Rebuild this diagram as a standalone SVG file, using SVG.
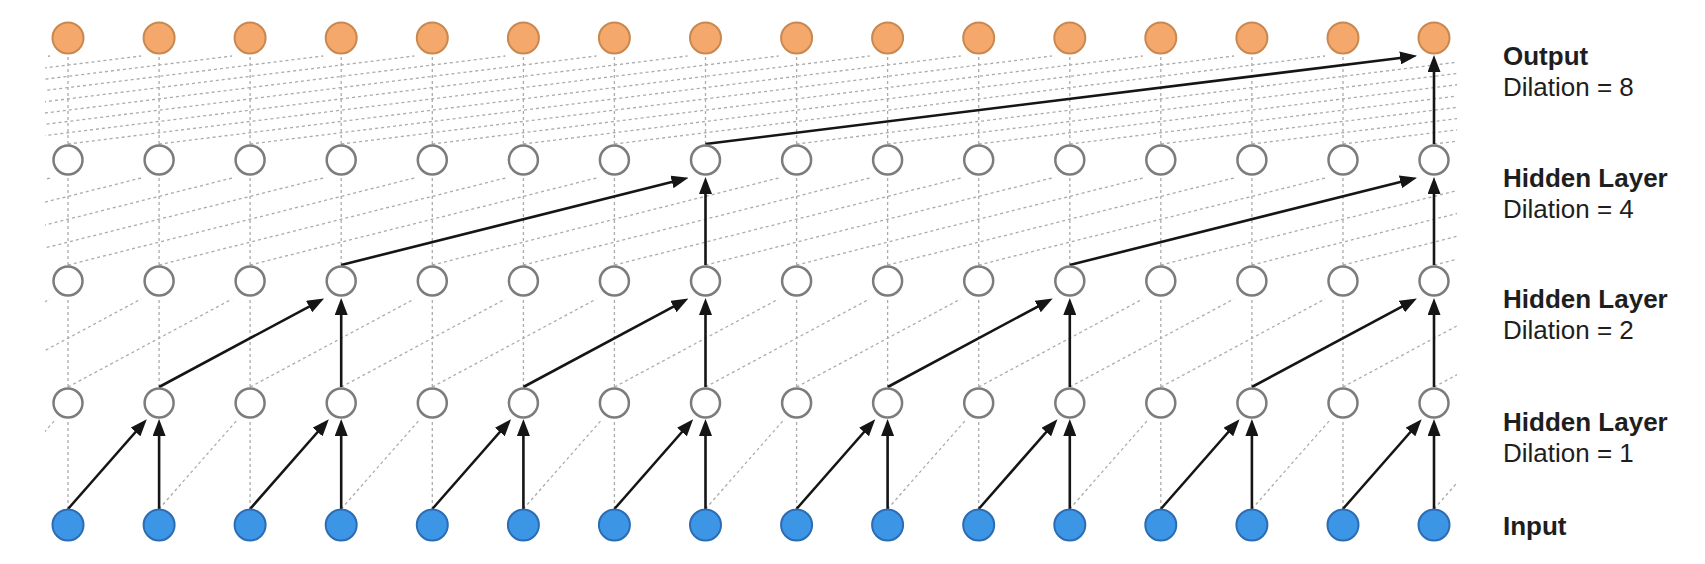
<svg xmlns="http://www.w3.org/2000/svg" xmlns:xlink="http://www.w3.org/1999/xlink" width="1705" height="564" viewBox="0 0 1705 564">
<style>
.grey{stroke:#ababab;stroke-width:1.3;stroke-dasharray:3 3;fill:none}
.arr{stroke:#151515;stroke-width:2.6;fill:none;marker-end:url(#ah)}
.out{fill:#F4A86C;stroke:#C8884F;stroke-width:2}
.hid{fill:#ffffff;stroke:#7c7c7c;stroke-width:2.5}
.inp{fill:#3D95E6;stroke:#2B6CB3;stroke-width:2}
.t{font-family:"Liberation Sans",Arial,sans-serif;font-size:26px;fill:#1e1e1e}
.b{font-weight:bold}
</style>
<defs>
<marker id="ah" markerUnits="userSpaceOnUse" markerWidth="17" markerHeight="13" refX="8" refY="6.5" orient="auto" viewBox="0 0 17 13">
<path d="M0,0 L17,6.5 L0,13 z" fill="#151515" stroke="none"/>
</marker>
<clipPath id="clip"><rect x="45" y="0" width="1412" height="564"/></clipPath>
<g id="gcol">
<line x1="-728.6" y1="144" x2="-18" y2="56"/>
<line x1="-364.3" y1="265" x2="-18" y2="178"/>
<line x1="-182.1" y1="387" x2="-18" y2="299"/>
<line x1="-91.1" y1="509" x2="-13" y2="420"/>
<line x1="0" y1="144" x2="0" y2="56"/>
<line x1="0" y1="265" x2="0" y2="178"/>
<line x1="0" y1="387" x2="0" y2="299"/>
<line x1="0" y1="509" x2="0" y2="420"/>
</g>
<line id="b8" x1="-728.6" y1="144" x2="-25.94" y2="56.98"/>
<line id="v8" x1="0" y1="144" x2="0" y2="64"/>
<line id="b4" x1="-364.3" y1="265" x2="-25.76" y2="179.95"/>
<line id="v4" x1="0" y1="265" x2="0" y2="186"/>
<line id="b2" x1="-182.1" y1="387" x2="-25.05" y2="302.78"/>
<line id="v2" x1="0" y1="387" x2="0" y2="307"/>
<line id="b1" x1="-91.1" y1="509" x2="-18.28" y2="426.01"/>
<line id="v1" x1="0" y1="509" x2="0" y2="428"/>
</defs>

<g id="connectors">
<g class="grey" clip-path="url(#clip)">
<use href="#gcol" x="68"/><use href="#gcol" x="159.1"/><use href="#gcol" x="250.1"/><use href="#gcol" x="341.2"/>
<use href="#gcol" x="432.3"/><use href="#gcol" x="523.4"/><use href="#gcol" x="614.4"/><use href="#gcol" x="705.5"/>
<use href="#gcol" x="796.6"/><use href="#gcol" x="887.6"/><use href="#gcol" x="978.7"/><use href="#gcol" x="1069.8"/>
<use href="#gcol" x="1160.8"/><use href="#gcol" x="1251.9"/><use href="#gcol" x="1343"/><use href="#gcol" x="1434"/>
<use href="#gcol" x="1525.1"/><use href="#gcol" x="1616.2"/><use href="#gcol" x="1707.3"/><use href="#gcol" x="1798.4"/>
<use href="#gcol" x="1889.5"/><use href="#gcol" x="1980.6"/><use href="#gcol" x="2071.6"/><use href="#gcol" x="2162.7"/>
</g>
<g class="arr">
<use href="#b8" x="1434"/><use href="#v8" x="1434"/>
<use href="#b4" x="705.5"/><use href="#v4" x="705.5"/>
<use href="#b4" x="1434"/><use href="#v4" x="1434"/>
<use href="#b2" x="341.2"/><use href="#v2" x="341.2"/>
<use href="#b2" x="705.5"/><use href="#v2" x="705.5"/>
<use href="#b2" x="1069.8"/><use href="#v2" x="1069.8"/>
<use href="#b2" x="1434"/><use href="#v2" x="1434"/>
<use href="#b1" x="159.1"/><use href="#v1" x="159.1"/>
<use href="#b1" x="341.2"/><use href="#v1" x="341.2"/>
<use href="#b1" x="523.4"/><use href="#v1" x="523.4"/>
<use href="#b1" x="705.5"/><use href="#v1" x="705.5"/>
<use href="#b1" x="887.6"/><use href="#v1" x="887.6"/>
<use href="#b1" x="1069.8"/><use href="#v1" x="1069.8"/>
<use href="#b1" x="1251.9"/><use href="#v1" x="1251.9"/>
<use href="#b1" x="1434"/><use href="#v1" x="1434"/>
</g>
</g>

<g id="output-layer">
<g id="out0"><circle class="out" cx="68" cy="38" r="15.5"/></g>
<g id="out1"><circle class="out" cx="159.1" cy="38" r="15.5"/></g>
<g id="out2"><circle class="out" cx="250.1" cy="38" r="15.5"/></g>
<g id="out3"><circle class="out" cx="341.2" cy="38" r="15.5"/></g>
<g id="out4"><circle class="out" cx="432.3" cy="38" r="15.5"/></g>
<g id="out5"><circle class="out" cx="523.4" cy="38" r="15.5"/></g>
<g id="out6"><circle class="out" cx="614.4" cy="38" r="15.5"/></g>
<g id="out7"><circle class="out" cx="705.5" cy="38" r="15.5"/></g>
<g id="out8"><circle class="out" cx="796.6" cy="38" r="15.5"/></g>
<g id="out9"><circle class="out" cx="887.6" cy="38" r="15.5"/></g>
<g id="out10"><circle class="out" cx="978.7" cy="38" r="15.5"/></g>
<g id="out11"><circle class="out" cx="1069.8" cy="38" r="15.5"/></g>
<g id="out12"><circle class="out" cx="1160.8" cy="38" r="15.5"/></g>
<g id="out13"><circle class="out" cx="1251.9" cy="38" r="15.5"/></g>
<g id="out14"><circle class="out" cx="1343" cy="38" r="15.5"/></g>
<g id="out15"><circle class="out" cx="1434" cy="38" r="15.5"/></g>
</g>

<g id="hidden4-layer">
<g id="h4_0"><circle class="hid" cx="68" cy="160" r="14.5"/></g>
<g id="h4_1"><circle class="hid" cx="159.1" cy="160" r="14.5"/></g>
<g id="h4_2"><circle class="hid" cx="250.1" cy="160" r="14.5"/></g>
<g id="h4_3"><circle class="hid" cx="341.2" cy="160" r="14.5"/></g>
<g id="h4_4"><circle class="hid" cx="432.3" cy="160" r="14.5"/></g>
<g id="h4_5"><circle class="hid" cx="523.4" cy="160" r="14.5"/></g>
<g id="h4_6"><circle class="hid" cx="614.4" cy="160" r="14.5"/></g>
<g id="h4_7"><circle class="hid" cx="705.5" cy="160" r="14.5"/></g>
<g id="h4_8"><circle class="hid" cx="796.6" cy="160" r="14.5"/></g>
<g id="h4_9"><circle class="hid" cx="887.6" cy="160" r="14.5"/></g>
<g id="h4_10"><circle class="hid" cx="978.7" cy="160" r="14.5"/></g>
<g id="h4_11"><circle class="hid" cx="1069.8" cy="160" r="14.5"/></g>
<g id="h4_12"><circle class="hid" cx="1160.8" cy="160" r="14.5"/></g>
<g id="h4_13"><circle class="hid" cx="1251.9" cy="160" r="14.5"/></g>
<g id="h4_14"><circle class="hid" cx="1343" cy="160" r="14.5"/></g>
<g id="h4_15"><circle class="hid" cx="1434" cy="160" r="14.5"/></g>
</g>

<g id="hidden2-layer">
<g id="h2_0"><circle class="hid" cx="68" cy="281" r="14.5"/></g>
<g id="h2_1"><circle class="hid" cx="159.1" cy="281" r="14.5"/></g>
<g id="h2_2"><circle class="hid" cx="250.1" cy="281" r="14.5"/></g>
<g id="h2_3"><circle class="hid" cx="341.2" cy="281" r="14.5"/></g>
<g id="h2_4"><circle class="hid" cx="432.3" cy="281" r="14.5"/></g>
<g id="h2_5"><circle class="hid" cx="523.4" cy="281" r="14.5"/></g>
<g id="h2_6"><circle class="hid" cx="614.4" cy="281" r="14.5"/></g>
<g id="h2_7"><circle class="hid" cx="705.5" cy="281" r="14.5"/></g>
<g id="h2_8"><circle class="hid" cx="796.6" cy="281" r="14.5"/></g>
<g id="h2_9"><circle class="hid" cx="887.6" cy="281" r="14.5"/></g>
<g id="h2_10"><circle class="hid" cx="978.7" cy="281" r="14.5"/></g>
<g id="h2_11"><circle class="hid" cx="1069.8" cy="281" r="14.5"/></g>
<g id="h2_12"><circle class="hid" cx="1160.8" cy="281" r="14.5"/></g>
<g id="h2_13"><circle class="hid" cx="1251.9" cy="281" r="14.5"/></g>
<g id="h2_14"><circle class="hid" cx="1343" cy="281" r="14.5"/></g>
<g id="h2_15"><circle class="hid" cx="1434" cy="281" r="14.5"/></g>
</g>

<g id="hidden1-layer">
<g id="h1_0"><circle class="hid" cx="68" cy="403" r="14.5"/></g>
<g id="h1_1"><circle class="hid" cx="159.1" cy="403" r="14.5"/></g>
<g id="h1_2"><circle class="hid" cx="250.1" cy="403" r="14.5"/></g>
<g id="h1_3"><circle class="hid" cx="341.2" cy="403" r="14.5"/></g>
<g id="h1_4"><circle class="hid" cx="432.3" cy="403" r="14.5"/></g>
<g id="h1_5"><circle class="hid" cx="523.4" cy="403" r="14.5"/></g>
<g id="h1_6"><circle class="hid" cx="614.4" cy="403" r="14.5"/></g>
<g id="h1_7"><circle class="hid" cx="705.5" cy="403" r="14.5"/></g>
<g id="h1_8"><circle class="hid" cx="796.6" cy="403" r="14.5"/></g>
<g id="h1_9"><circle class="hid" cx="887.6" cy="403" r="14.5"/></g>
<g id="h1_10"><circle class="hid" cx="978.7" cy="403" r="14.5"/></g>
<g id="h1_11"><circle class="hid" cx="1069.8" cy="403" r="14.5"/></g>
<g id="h1_12"><circle class="hid" cx="1160.8" cy="403" r="14.5"/></g>
<g id="h1_13"><circle class="hid" cx="1251.9" cy="403" r="14.5"/></g>
<g id="h1_14"><circle class="hid" cx="1343" cy="403" r="14.5"/></g>
<g id="h1_15"><circle class="hid" cx="1434" cy="403" r="14.5"/></g>
</g>

<g id="input-layer">
<g id="in0"><circle class="inp" cx="68" cy="525" r="15.5"/></g>
<g id="in1"><circle class="inp" cx="159.1" cy="525" r="15.5"/></g>
<g id="in2"><circle class="inp" cx="250.1" cy="525" r="15.5"/></g>
<g id="in3"><circle class="inp" cx="341.2" cy="525" r="15.5"/></g>
<g id="in4"><circle class="inp" cx="432.3" cy="525" r="15.5"/></g>
<g id="in5"><circle class="inp" cx="523.4" cy="525" r="15.5"/></g>
<g id="in6"><circle class="inp" cx="614.4" cy="525" r="15.5"/></g>
<g id="in7"><circle class="inp" cx="705.5" cy="525" r="15.5"/></g>
<g id="in8"><circle class="inp" cx="796.6" cy="525" r="15.5"/></g>
<g id="in9"><circle class="inp" cx="887.6" cy="525" r="15.5"/></g>
<g id="in10"><circle class="inp" cx="978.7" cy="525" r="15.5"/></g>
<g id="in11"><circle class="inp" cx="1069.8" cy="525" r="15.5"/></g>
<g id="in12"><circle class="inp" cx="1160.8" cy="525" r="15.5"/></g>
<g id="in13"><circle class="inp" cx="1251.9" cy="525" r="15.5"/></g>
<g id="in14"><circle class="inp" cx="1343" cy="525" r="15.5"/></g>
<g id="in15"><circle class="inp" cx="1434" cy="525" r="15.5"/></g>
</g>

<g id="labels">
<text class="t b" x="1503" y="64.5">Output</text>
<text class="t" x="1503" y="95.5">Dilation = 8</text>
<text class="t b" x="1503" y="186.5">Hidden Layer</text>
<text class="t" x="1503" y="217.5">Dilation = 4</text>
<text class="t b" x="1503" y="307.5">Hidden Layer</text>
<text class="t" x="1503" y="338.5">Dilation = 2</text>
<text class="t b" x="1503" y="430.5">Hidden Layer</text>
<text class="t" x="1503" y="461.5">Dilation = 1</text>
<text class="t b" x="1503" y="535">Input</text>
</g>
</svg>
